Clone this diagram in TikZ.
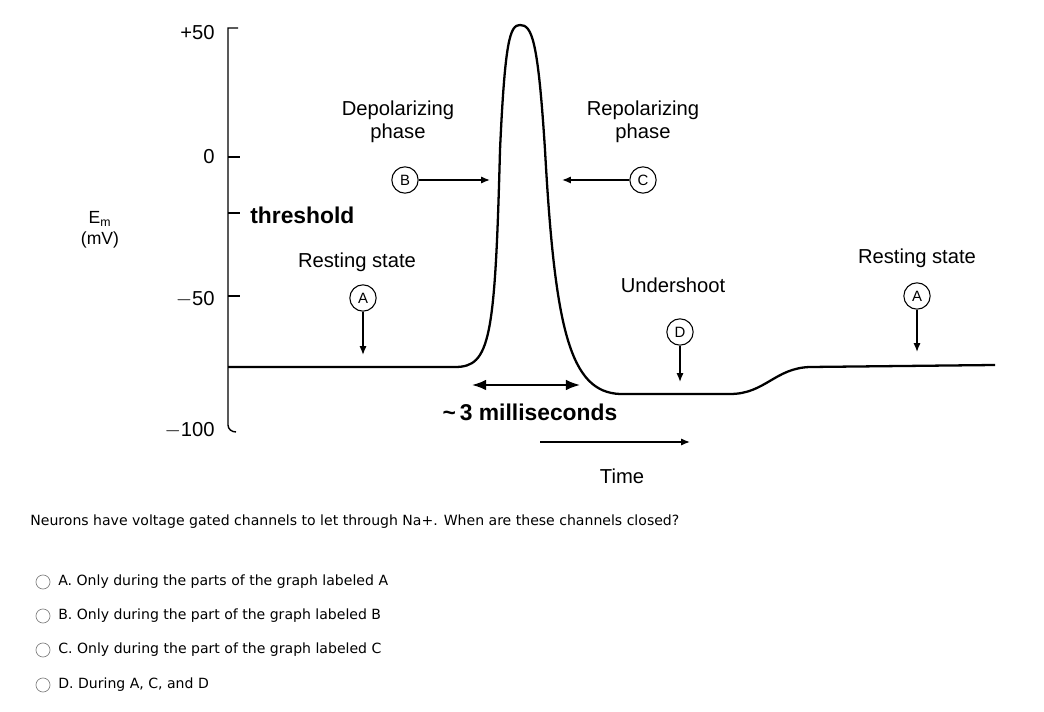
\documentclass[tikz,border=0pt]{standalone}
\usepackage{fontspec}
\setmainfont{Liberation Sans}
\newfontfamily\qfont{DejaVu Sans}
\usetikzlibrary{arrows.meta}
\begin{document}
\begin{tikzpicture}[x=0.02cm,y=-0.02cm,
 lab/.style={font=\fontsize{11.5}{13}\selectfont,align=center,inner sep=0},
 big/.style={font=\bfseries\fontsize{13}{15}\selectfont,inner sep=0},
 circ/.style={circle,draw,line width=0.6pt,inner sep=0pt,minimum size=15pt,font=\fontsize{8.5}{9}\selectfont},
 arr/.style={-{Latex[length=5pt,width=4pt]},line width=0.8pt},
 q/.style={font=\qfont\fontsize{8}{10}\selectfont,anchor=west,inner sep=0},
 opt/.style={circle,draw,gray,minimum size=8pt,inner sep=0}]
\useasboundingbox (0,0) rectangle (1044,712);
% axis
\draw[line width=0.8pt] (238,28) -- (228,28) -- (228,425) to[out=-90,in=180] (236,432);
\foreach \y in {157,213,296} \draw[line width=0.8pt] (228,\y) -- (240,\y);
\node[lab,anchor=east] (p50) at (215,33) {+50};
\node[lab,anchor=east] (z) at (215,157) {0};
\node[lab,anchor=east] (m50) at (215,299) {$-$50};
\node[lab,anchor=east] (m100) at (215,430) {$-$100};
\node[lab,font=\fontsize{10}{12}\selectfont] (em) at (100,230) {E\textsubscript{m}\\(mV)};
% curve
\draw[line width=1.3pt] (228,367) -- (455,367)
  .. controls (490,367) and (495,340) .. (500,150)
  .. controls (505,40) and (510,25) .. (520,25)
  .. controls (532,25) and (538,40) .. (545,150)
  .. controls (555,330) and (570,392) .. (620,394)
  -- (730,394) .. controls (765,394) and (775,368) .. (810,367) -- (995,365);
% labels
\node[lab] (dep) at (398,122) {Depolarizing\\phase};
\node[circ] (B) at (405,180) {B};
\coordinate (Bt) at (490,180);
\draw[arr] (B) -- (Bt);
\node[lab] (rep) at (643,122) {Repolarizing\\phase};
\node[circ] (C) at (643,180) {C};
\coordinate (Ct) at (562,180);
\draw[arr] (C) -- (Ct);
\node[big,anchor=west] (th) at (250,215) {threshold};
\node[lab] (rs1) at (357,262) {Resting state};
\node[circ] (A1) at (363,298) {A};
\coordinate (A1t) at (363,355);
\draw[arr] (A1) -- (A1t);
\node[lab] (und) at (673,285) {Undershoot};
\node[circ] (D) at (680,332) {D};
\coordinate (Dt) at (680,382);
\draw[arr] (D) -- (Dt);
\node[lab] (rs2) at (917,258) {Resting state};
\node[circ] (A2) at (917,296) {A};
\coordinate (A2t) at (917,352);
\draw[arr] (A2) -- (A2t);
\coordinate (d1) at (472,385); \coordinate (d2) at (580,385);
\draw[{Latex[length=8pt,width=6pt]}-{Latex[length=8pt,width=6pt]},line width=1pt] (d1) -- (d2);
\node[big] (ms) at (530,412) {\textasciitilde\,3 milliseconds};
\coordinate (t1) at (540,442); \coordinate (t2) at (690,442);
\draw[arr] (t1) -- (t2);
\node[lab] (time) at (622,476) {Time};
% question
\node[q] (qq) at (30,522) {Neurons have voltage gated channels to let through Na+. When are these channels closed?};
\foreach \yy/\t [count=\i] in {582/A. Only during the parts of the graph labeled A,616/B. Only during the part of the graph labeled B,650/C. Only during the part of the graph labeled C,685/D. During A{,} C{,} and D}{
 \node[opt] (o\i) at (43,\yy) {};
 \node[q] (ot\i) at (58,\yy) {\t};}
\end{tikzpicture}
\end{document}
